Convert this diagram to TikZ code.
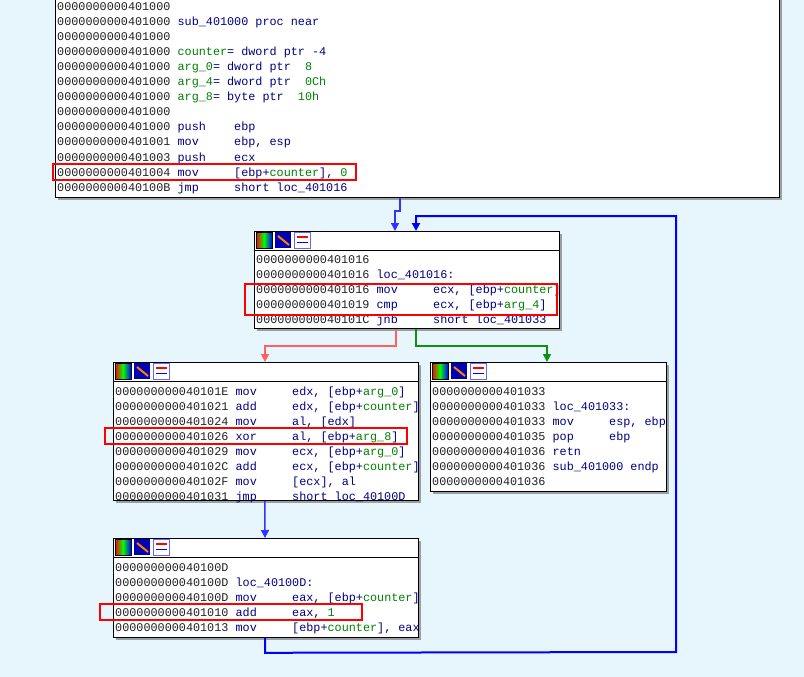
\documentclass[tikz,border=0pt]{standalone}
\usepackage{fontspec}
\setmonofont{Liberation Mono}
\usetikzlibrary{arrows.meta,shadows,calc}
\definecolor{bg}{HTML}{E6F6FC}
\definecolor{nav}{HTML}{000080}
\definecolor{grn}{HTML}{008000}
\definecolor{adr}{HTML}{202020}
\definecolor{redl}{HTML}{FF6060}
\definecolor{grnl}{HTML}{109010}
\newcommand\nm[1]{\textcolor{grn}{#1}}
\newcommand\asml[5]{%
 \node[txt,text=adr] at (#1,#2+4) {#3};
 \node[txt,text=nav] at (#1+120.4,#2+4) {#4};
 \node[txt,text=nav] at (#1+177,#2+4) {#5};}
\newcommand\asmd[4]{%
 \node[txt,text=adr] at (#1,#2+4) {#3};
 \node[txt,text=nav] at (#1+120.4,#2+4) {#4};}
\newcommand\icons[2]{%
 \shade[left color=red,right color=blue,middle color=green] (#1,#2) rectangle ++(16,-16);
 \draw[black] (#1,#2) rectangle ++(16,-16);
 \fill[blue!70!black] (#1+19,#2) rectangle ++(16,-16);
 \draw[orange,line width=2pt] (#1+22,#2-12) -- (#1+33,#2-3);
 \fill[white] (#1+38,#2) rectangle ++(16,-16);
 \draw[blue!60] (#1+38,#2) rectangle ++(16,-16);
 \draw[red,line width=1.5pt] (#1+41,#2-11) -- (#1+52,#2-11);
 \draw[blue] (#1+41,#2-6) -- (#1+52,#2-6);}
\tikzset{
 blk/.style={draw=black,fill=white,line width=0.8pt,anchor=north west,inner sep=0,
   drop shadow={shadow xshift=3pt,shadow yshift=-3pt,fill=black!60,opacity=.6}},
 txt/.style={anchor=base west,inner sep=0,font=\ttfamily\fontsize{11.8}{12}\selectfont},
 hl/.style={draw=red,line width=1.6pt},
 edge/.style={line width=1.5pt,-{Triangle[width=8pt,length=8pt]}},
}
\begin{document}
\begin{tikzpicture}[x=1pt,y=-1pt]
\fill[bg] (0,0) rectangle (804,677);
\useasboundingbox (0,0) rectangle (804,677);
% blocks
\node[blk,minimum width=724pt,minimum height=207pt] (b1) at (55,-10) {};
\node[blk,minimum width=305pt,minimum height=97pt] (b2) at (254,231) {};
\node[blk,minimum width=305pt,minimum height=138pt] (b3) at (113,362) {};
\node[blk,minimum width=236pt,minimum height=129pt] (b4) at (430,362) {};
\node[blk,minimum width=305pt,minimum height=99pt] (b5) at (113,538) {};
\draw[line width=0.8pt] (254,250) -- (559,250);
\draw[line width=0.8pt] (113,381) -- (418,381);
\draw[line width=0.8pt] (430,381) -- (666,381);
\draw[line width=0.8pt] (113,557) -- (418,557);
\icons{256}{248}\icons{115}{379}\icons{432}{379}\icons{115}{555}
% block 1
\asmd{57}{7}{0000000000401000}{}
\asmd{57}{22}{0000000000401000}{sub\_401000 proc near}
\asmd{57}{37}{0000000000401000}{}
\asmd{57}{52}{0000000000401000}{\nm{counter}= dword ptr -4}
\asmd{57}{67}{0000000000401000}{\nm{arg\_0}= dword ptr\ \ \nm{8}}
\asmd{57}{82}{0000000000401000}{\nm{arg\_4}= dword ptr\ \ \nm{0Ch}}
\asmd{57}{97}{0000000000401000}{\nm{arg\_8}= byte ptr\ \ \nm{10h}}
\asmd{57}{112}{0000000000401000}{}
\asml{57}{127}{0000000000401000}{push}{ebp}
\asml{57}{142}{0000000000401001}{mov}{ebp, esp}
\asml{57}{157}{0000000000401003}{push}{ecx}
\asml{57}{172}{0000000000401004}{mov}{[ebp+\nm{counter}], \nm{0}}
\asml{57}{187}{000000000040100B}{jmp}{short loc\_401016}
\draw[hl] (53,164) rectangle (356,180);
% block 2
\asmd{256}{259}{0000000000401016}{}
\asmd{256}{274}{0000000000401016}{loc\_401016:}
\asml{256}{289}{0000000000401016}{mov}{ecx, [ebp+\nm{counter}]}
\asml{256}{304}{0000000000401019}{cmp}{ecx, [ebp+\nm{arg\_4}]}
\asml{256}{319}{000000000040101C}{jnb}{short loc\_401033}
\draw[hl] (245,284) rectangle (557,315);
% block 3
\asml{115}{391}{000000000040101E}{mov}{edx, [ebp+\nm{arg\_0}]}
\asml{115}{406}{0000000000401021}{add}{edx, [ebp+\nm{counter}]}
\asml{115}{421}{0000000000401024}{mov}{al, [edx]}
\asml{115}{436}{0000000000401026}{xor}{al, [ebp+\nm{arg\_8}]}
\asml{115}{451}{0000000000401029}{mov}{ecx, [ebp+\nm{arg\_0}]}
\asml{115}{466}{000000000040102C}{add}{ecx, [ebp+\nm{counter}]}
\asml{115}{481}{000000000040102F}{mov}{[ecx], al}
\asml{115}{496}{0000000000401031}{jmp}{short loc\_40100D}
\draw[hl] (105,428) rectangle (407,444);
% block 4
\asmd{432}{391}{0000000000401033}{}
\asmd{432}{406}{0000000000401033}{loc\_401033:}
\asml{432}{421}{0000000000401033}{mov}{esp, ebp}
\asml{432}{436}{0000000000401035}{pop}{ebp}
\asmd{432}{451}{0000000000401036}{retn}
\asmd{432}{466}{0000000000401036}{sub\_401000 endp}
\asmd{432}{481}{0000000000401036}{}
% block 5
\asmd{115}{567}{000000000040100D}{}
\asmd{115}{582}{000000000040100D}{loc\_40100D:}
\asml{115}{597}{000000000040100D}{mov}{eax, [ebp+\nm{counter}]}
\asml{115}{612}{0000000000401010}{add}{eax, \nm{1}}
\asml{115}{627}{0000000000401013}{mov}{[ebp+\nm{counter}], eax}
\draw[hl] (100,604) rectangle (362,620);
% edges
\draw[edge,blue!80!white] ($(b1.south west)+(345,0)$) -- ++(0,13) -| ($(b2.north west)+(141,0)$);
\draw[edge,blue,line width=2pt] ($(b5.south west)+(152,0)$) -- ++(0,15) -- (676,652) -- (676,216) -| ($(b2.north west)+(162,0)$);
\draw[edge,redl] ($(b2.south west)+(142,0)$) -- ++(0,17) -| ($(b3.north west)+(152,0)$);
\draw[edge,grnl] ($(b2.south west)+(162,0)$) -- ++(0,17) -| ($(b4.north west)+(117,0)$);
\draw[edge,blue!80!white] (b3.south west -| b5.north) ++(-1,0) -- ($(b5.north west)+(152,0)$);
\end{tikzpicture}
\end{document}
